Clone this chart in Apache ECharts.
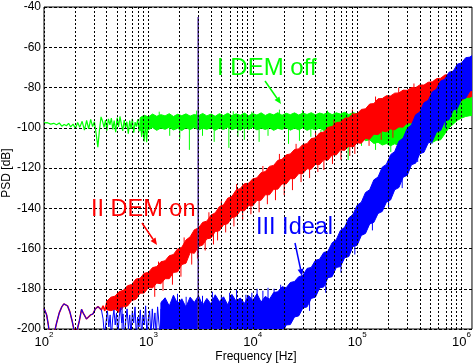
<!DOCTYPE html>
<html><head><meta charset="utf-8">
<script src="https://cdn.jsdelivr.net/npm/echarts@6/dist/echarts.min.js"></script>
<style>html,body{margin:0;padding:0;background:#fff}#c{width:474px;height:363px}</style>
</head><body><div id="c"></div>
<script>
// ---------- DATA (frequency in Hz, PSD in dB) ----------
const xTickFreqs = [100, 1000, 10000, 100000, 1000000];
const yTicks = [-200, -180, -160, -140, -120, -100, -80, -60, -40];
const gridFreqs = [100,200,300,400,500,600,700,800,900,1000,2000,3000,4000,5000,6000,7000,8000,9000,
  10000,20000,30000,40000,50000,60000,70000,80000,90000,100000,200000,300000,400000,500000,600000,700000,800000,900000,1000000];

// low-frequency part shared by "DEM on" and "Ideal"
const lowShared = [[100,-189.7],[106,-193],[110,-198],[114,-204],[123,-204],[132,-197],[140,-192],[148,-189],[155,-187.5],[161,-186.7],[168,-188.5],[177,-191.5],[186,-196],[193,-200],[200,-204],[208,-204],[218,-196],[229,-190.2],[237,-192],[246,-193.5],[255,-195],[264,-194.7],[280,-193],[295,-192.5],[310,-190],[329,-188.9],[342,-189.5],[355,-190.5]];
const redLowTail = [[368,-188.5],[382,-191],[398,-187]];
const blueLowTail = [[368,-195],[380,-204],[392,-197],[405,-191],[418,-199],[430,-193],[442,-204],[455,-195],[468,-190.5],[481,-198],[495,-192],[510,-204],[525,-194],[540,-189.5],[556,-197],[572,-192.5],[590,-204],[607,-196],[625,-190],[644,-200],[663,-193],[682,-204],[702,-191],[723,-197],[745,-189],[767,-204],[790,-194],[813,-199],[837,-190.5],[862,-204],[887,-193],[914,-198],[941,-188.5],[969,-204],[998,-195],[1028,-191],[1058,-204],[1090,-190],[1122,-200],[1155,-192],[1190,-204],[1225,-189],[1262,-197],[1300,-204],[1318,-190]];
const greenLow = [[100,-97.6],[108,-97.5],[116,-98.2],[124,-97.8],[132,-98.5],[140,-97.6],[148,-99.2],[156,-98.4],[164,-99.0],[172,-97.8],[180,-99.6],[190,-98.2],[200,-100.4],[210,-97.4],[220,-99.8],[232,-96.8],[244,-101.2],[256,-96.4],[268,-100.6],[280,-95.8],[292,-99.4],[304,-97.0],[316,-103.0],[328,-109.6],[340,-101.0],[352,-94.6],[364,-96.8],[376,-99.8],[388,-96.2],[400,-101.4],[414,-95.6],[428,-98.6],[442,-95.2],[456,-100.8],[470,-96.4],[486,-102.2],[502,-95.0],[518,-99.6],[534,-94.4],[550,-98.0],[568,-101.6],[586,-96.2],[604,-100.2],[622,-97.0],[642,-103.0],[662,-96.4],[682,-100.6],[702,-95.6],[724,-102.4],[746,-97.2],[768,-99.4],[790,-95.8],[814,-101.8],[838,-97.0],[862,-104.6],[886,-98.2],[910,-106.8],[936,-97.4],[962,-107.2],[990,-96.6]];

// dense noisy bands: [frequency, upper edge, lower edge]
const greenBand = [[832,-95.0,-101.4],[912,-93.8,-100.2],[1000,-94.6,-101.0],[1096,-93.2,-99.9],[1202,-94.3,-101.3],[1318,-93.5,-100.1],[1445,-94.1,-100.8],[1585,-93.0,-99.7],[1738,-94.4,-101.1],[1905,-93.3,-100.3],[2089,-94.0,-101.4],[2291,-93.1,-100.0],[2512,-94.2,-100.9],[2754,-93.4,-99.8],[3020,-94.0,-101.2],[3311,-92.9,-100.2],[3631,-94.1,-100.8],[3981,-93.2,-99.9],[4365,-94.3,-101.3],[4786,-93.0,-100.1],[5248,-93.9,-100.9],[5754,-92.8,-99.7],[6310,-94.0,-101.0],[6918,-93.1,-100.2],[7586,-93.8,-101.2],[8318,-92.7,-100.0],[9120,-94.0,-100.8],[10000,-93.0,-99.8],[10965,-93.7,-101.1],[12023,-92.6,-100.1],[13183,-93.9,-100.9],[14454,-92.9,-99.9],[15849,-93.6,-101.3],[17378,-92.5,-100.3],[19055,-93.8,-100.8],[20893,-92.8,-99.9],[22909,-93.5,-101.2],[25119,-92.6,-100.2],[27542,-93.7,-101.0],[30200,-92.7,-100.0],[33113,-93.4,-101.3],[36308,-92.5,-100.3],[39811,-93.6,-101.1],[43652,-92.7,-100.1],[47863,-93.3,-101.4],[52481,-92.4,-100.5],[57544,-93.5,-101.6],[63096,-92.6,-100.6],[69183,-93.2,-101.8],[75858,-92.3,-100.9],[83176,-93.4,-102.2],[91201,-92.5,-101.3],[100000,-93.1,-103.2],[109648,-92.2,-104.6],[120226,-93.0,-106.4],[131826,-92.4,-106.0],[144544,-92.9,-107.8],[158489,-92.0,-107.2],[173780,-92.8,-108.6],[190546,-92.2,-107.9],[208930,-92.7,-108.9],[229087,-91.9,-108.0],[251189,-92.6,-108.7],[275423,-92.0,-107.8],[301995,-92.4,-108.5],[331131,-91.7,-107.6],[363078,-91.8,-108.2],[398107,-90.9,-107.2],[436516,-90.6,-107.8],[478630,-89.8,-106.8],[524807,-89.5,-107.3],[575440,-88.6,-106.2],[630957,-88.2,-106.0],[691831,-87.4,-103.0],[758578,-87.0,-100.0],[831764,-86.2,-98.2],[912011,-85.8,-96.3],[1000000,-84.9,-95.2],[1096478,-84.5,-94.4],[1202264,-83.8,-94.0],[1318257,-83.5,-93.8]];

const redBand = [[398,-186.3,-190.4],[437,-184.2,-190.9],[479,-183.7,-190.2],[525,-181.4,-191.8],[575,-180.8,-189.0],[631,-178.5,-188.6],[692,-177.9,-185.8],[759,-175.2,-185.3],[832,-174.8,-182.2],[912,-172.3,-182.1],[1000,-171.9,-179.4],[1096,-169.5,-179.6],[1202,-169.0,-177.2],[1318,-166.6,-177.5],[1445,-166.1,-175.0],[1585,-163.6,-175.0],[1738,-163.0,-171.9],[1905,-160.2,-171.6],[2089,-159.4,-168.0],[2291,-155.8,-167.3],[2512,-154.2,-162.0],[2754,-150.7,-162.4],[3020,-149.8,-159.0],[3311,-147.0,-158.3],[3631,-146.4,-155.2],[3981,-143.4,-154.8],[4365,-142.3,-151.6],[4786,-139.2,-151.2],[5248,-138.3,-148.2],[5754,-135.0,-147.7],[6310,-134.1,-144.6],[6918,-131.0,-144.1],[7586,-130.2,-141.2],[8318,-127.8,-141.3],[9120,-127.6,-138.7],[10000,-125.4,-138.8],[10965,-124.9,-136.1],[12023,-122.3,-136.0],[13183,-121.8,-133.3],[14454,-119.2,-133.3],[15849,-118.7,-130.6],[17378,-116.2,-130.5],[19055,-115.7,-127.9],[20893,-113.5,-127.9],[22909,-113.0,-125.3],[25119,-110.8,-125.3],[27542,-110.5,-122.8],[30200,-108.3,-122.8],[33113,-107.9,-120.4],[36308,-105.4,-120.6],[39811,-105.0,-118.1],[43652,-102.6,-118.3],[47863,-102.1,-115.9],[52481,-99.8,-116.1],[57544,-99.4,-113.5],[63096,-97.4,-113.5],[69183,-97.2,-110.9],[75858,-95.3,-111.3],[83176,-95.0,-109.2],[91201,-93.2,-109.6],[100000,-93.0,-107.5],[109648,-90.9,-107.7],[120226,-90.6,-105.3],[131826,-88.2,-105.6],[144544,-88.0,-103.2],[158489,-85.6,-103.4],[173780,-85.5,-101.6],[190546,-84.1,-102.0],[208930,-84.2,-100.6],[229087,-82.8,-101.0],[251189,-82.7,-99.6],[275423,-81.3,-99.7],[301995,-81.4,-97.6],[331131,-80.0,-97.6],[363078,-80.1,-95.6],[398107,-78.7,-95.6],[436516,-78.8,-93.6],[478630,-77.4,-93.6],[524807,-77.2,-91.7],[575440,-75.6,-91.8],[630957,-75.4,-89.9],[691831,-73.8,-90.0],[758578,-73.6,-88.2],[831764,-72.1,-88.3],[912011,-72.0,-86.5],[1000000,-70.6,-86.6],[1096478,-70.0,-84.8],[1202264,-68.2,-84.9],[1318257,-68.0,-83.8]];

const blueBand = [[1318,-187.0,-205],[1445,-184.5,-205],[1585,-188.6,-205],[1738,-183.2,-205],[1905,-187.4,-205],[2089,-185.0,-205],[2291,-189.1,-205],[2512,-184.2,-205],[2754,-186.8,-205],[3020,-183.5,-205],[3311,-188.2,-205],[3631,-184.8,-205],[3981,-187.6,-205],[4365,-183.0,-205],[4786,-186.4,-205],[5248,-184.0,-205],[5754,-188.0,-205],[6310,-182.8,-205],[6918,-186.1,-205],[7586,-184.6,-205],[8318,-187.3,-205],[9120,-183.4,-205],[10000,-185.8,-205],[10965,-182.5,-205],[12023,-186.6,-205],[13183,-183.8,-205],[14454,-185.2,-205],[15849,-181.9,-205],[17378,-181.5,-205],[19055,-179.0,-202.5],[20893,-179.5,-198.0],[22909,-176.9,-197.8],[25119,-176.4,-194.0],[27542,-174.0,-193.5],[30200,-173.4,-189.6],[33113,-169.9,-189.0],[36308,-169.4,-184.8],[39811,-165.9,-184.2],[43652,-165.3,-179.6],[47863,-162.0,-179.1],[52481,-161.4,-174.5],[57544,-157.2,-174.0],[63096,-155.6,-169.4],[69183,-151.0,-169.0],[75858,-149.5,-164.6],[83176,-144.8,-164.0],[91201,-143.1,-159.0],[100000,-138.5,-158.4],[109648,-137.0,-153.5],[120226,-132.2,-152.5],[131826,-130.8,-147.8],[144544,-125.9,-147.0],[158489,-124.5,-142.6],[173780,-119.6,-141.6],[190546,-118.2,-137.0],[208930,-113.4,-135.9],[229087,-111.8,-130.8],[251189,-106.7,-129.7],[275423,-105.2,-124.6],[301995,-100.3,-123.6],[331131,-98.6,-118.4],[363078,-93.6,-117.6],[398107,-92.2,-112.9],[436516,-87.6,-112.2],[478630,-86.4,-107.6],[524807,-82.1,-106.8],[575440,-80.9,-102.1],[630957,-76.8,-101.4],[691831,-75.9,-96.6],[758578,-72.4,-96.0],[831764,-71.9,-91.2],[912011,-68.4,-90.4],[1000000,-67.8,-85.8],[1096478,-65.2,-85.3],[1202264,-64.9,-81.7],[1318257,-63.4,-81.2]];

// isolated noise spikes: [frequency, from, to]
const greenSpikes = [[1270,-94,-92],[1600,-100,-104],[2000,-100,-105.5],[2470,-100,-111],[2900,-94,-91.5],[3300,-100,-104],[4270,-100,-107],[5900,-100,-110],[6500,-94,-91.8],[7200,-100,-104.5],[8300,-100,-106],[9800,-94,-92],[11500,-100,-107],[14000,-100,-104],[18000,-94,-91],[22000,-100,-108],[28000,-101,-106.5],[30000,-93.5,-91.3],[36000,-100,-104.5],[45000,-101,-107],[52000,-93.5,-91.5],[60000,-101,-105],[82000,-102,-116],[110000,-104,-109],[150000,-105,-111],[210000,-106,-112],[330000,-106,-110]];
const redSpikes = [[1150,-178,-184],[1380,-175,-181],[1700,-172,-178],[2050,-168,-174],[2600,-161,-168],[2950,-159,-165],[3500,-156,-161],[4200,-152,-158],[4600,-150,-156],[5500,-147,-152],[6600,-143,-149],[8000,-140,-146],[9600,-138,-143],[11500,-135,-142],[13800,-133,-138],[16500,-130,-136],[20000,-127,-133.5],[24000,-125,-131],[29000,-122,-127],[35000,-119,-125],[42000,-117,-122],[48000,-115,-121],[58000,-113,-118],[70000,-110,-116],[85000,-109,-114],[95000,-108,-113],[130000,-104,-109],[170000,-102,-106],[220000,-100,-105],
  [1250,-169,-166.5],[2200,-158,-154.5],[3800,-145,-142],[5000,-139,-136.5],[7000,-131,-128],[12500,-122,-119],[18000,-116,-113],[26000,-111,-108],[40000,-105,-102],[60000,-99,-96],[90000,-94,-91],[150000,-87,-84.5],[250000,-83,-80],[350000,-80.5,-78]];
const blueSpikes = [[560,-200,-189],[1350,-200,-186],[1900,-200,-182.5],[2300,-200,-184],[3300,-200,-183.5],[4100,-200,-181.5],[5000,-200,-183],[6000,-200,-182],[7000,-200,-180.5],[8600,-200,-183],[9800,-200,-182],[11000,-200,-180],[12500,-200,-181],[14000,-200,-179.5],[16000,-200,-180],[18500,-200,-178],
  [35000,-186,-191],[50000,-176,-182],[70000,-167,-172],[95000,-157,-163],[140000,-146,-151],[200000,-135,-140],[270000,-124,-130],[380000,-111,-117],[520000,-104,-108],[700000,-95,-100],[900000,-89,-93]];
// tone at ~3 kHz
const toneLine = [[3000,-200],[3000,-45]];

// ---------- CHART ----------
const FONT = "'Liberation Sans', Arial, sans-serif";
const lg = f => Math.log10(f);
const chart = echarts.init(document.getElementById('c'), null, {renderer: 'canvas'});

function band(rows, color) {
  return {
    type: 'custom', clip: true, silent: true,
    data: rows.map(r => [lg(r[0]), r[1], r[2]]),
    encode: {x: 0, y: [1, 2]},
    renderItem: function (params, api) {
      if (params.dataIndex !== 0) return null;
      const pts = [];
      rows.forEach(r => pts.push(api.coord([lg(r[0]), r[1]])));
      for (let i = rows.length - 1; i >= 0; i--) pts.push(api.coord([lg(rows[i][0]), rows[i][2]]));
      return {type: 'polygon', shape: {points: pts}, style: {fill: color, stroke: color, lineWidth: 1}};
    }
  };
}
function spikes(rows, color) {
  return {
    type: 'custom', clip: true, silent: true,
    data: rows.map(r => [lg(r[0]), r[1], r[2]]),
    encode: {x: 0, y: [1, 2]},
    renderItem: function (params, api) {
      const a = api.coord([api.value(0), api.value(1)]);
      const b = api.coord([api.value(0), api.value(2)]);
      return {type: 'line', shape: {x1: a[0], y1: a[1], x2: b[0], y2: b[1]}, style: {stroke: color, lineWidth: 1}};
    }
  };
}
function line(rows, color, w) {
  return {
    type: 'line', clip: true, silent: true, showSymbol: false, symbol: 'none',
    data: rows.map(r => [lg(r[0]), r[1]]),
    lineStyle: {color: color, width: w}
  };
}
function arrow(x1, y1, x2, y2, color) {
  const ang = Math.atan2(y2 - y1, x2 - x1), L = 7, W = 3;
  const bx = x2 - L * Math.cos(ang), by = y2 - L * Math.sin(ang);
  const px = -Math.sin(ang) * W, py = Math.cos(ang) * W;
  return [
    {type: 'line', shape: {x1: x1, y1: y1, x2: bx, y2: by}, style: {stroke: color, lineWidth: 1.5}, z: 100},
    {type: 'polygon', shape: {points: [[x2, y2], [bx + px, by + py], [bx - px, by - py]]}, style: {fill: color}, z: 100}
  ];
}

const option = {
  animation: false,
  backgroundColor: '#fff',
  grid: {left: 44, right: 0, top: 7, bottom: 34, show: true, borderColor: '#000', borderWidth: 1, backgroundColor: '#fff'},
  xAxis: {
    type: 'value', min: 2, max: 6.1, interval: 1,
    axisLine: {show: false}, axisTick: {show: false}, splitLine: {show: false},
    axisLabel: {
      showMaxLabel: false, margin: 2, color: '#000',
      formatter: function (v) {
        const n = Math.round(v);
        if (Math.abs(v - n) > 1e-6 || xTickFreqs.indexOf(Math.pow(10, n)) < 0) return '';
        return '{b|10}{s|' + n + '}';
      },
      rich: {
        b: {fontSize: 13, fontFamily: FONT, color: '#000', lineHeight: 18, verticalAlign: 'bottom'},
        s: {fontSize: 8, fontFamily: FONT, color: '#000', lineHeight: 10, verticalAlign: 'top'}
      }
    }
  },
  yAxis: {
    type: 'value', min: yTicks[0], max: yTicks[yTicks.length - 1], interval: 20,
    axisLine: {show: false}, axisTick: {show: false},
    splitLine: {show: true, lineStyle: {color: '#000', width: 1, type: [3, 2]}},
    axisLabel: {color: '#000', fontSize: 12, fontFamily: FONT, margin: 3}
  },
  graphic: [
    {type: 'text', x: 7, y: 173, rotation: Math.PI / 2, style: {text: 'PSD [dB]', fill: '#000', font: '12px ' + FONT, align: 'center', verticalAlign: 'middle'}},
    {type: 'text', x: 256, y: 357, style: {text: 'Frequency [Hz]', fill: '#000', font: '12px ' + FONT, align: 'center', verticalAlign: 'middle'}},
    {type: 'text', x: 217, y: 68.5, z: 100, style: {text: 'I DEM off', fill: '#00ff00', font: '24px ' + FONT, align: 'left', verticalAlign: 'middle'}},
    {type: 'text', x: 91, y: 209.5, z: 100, style: {text: 'II DEM on', fill: '#ff0000', font: '23.5px ' + FONT, align: 'left', verticalAlign: 'middle'}},
    {type: 'text', x: 256, y: 228, z: 100, style: {text: 'III Ideal', fill: '#0000ff', font: '23.5px ' + FONT, align: 'left', verticalAlign: 'middle'}}
  ].concat(arrow(265, 81, 281, 104, '#00ff00'))
   .concat(arrow(142, 223, 157, 245, '#ff0000'))
   .concat(arrow(295, 243, 302, 276, '#0000ff')),
  series: [
    {
      type: 'line', data: [], silent: true,
      markLine: {
        silent: true, symbol: ['none', 'none'], label: {show: false}, animation: false,
        lineStyle: {color: '#000', width: 1, type: [2, 2]},
        data: gridFreqs.map(f => ({xAxis: lg(f)}))
      }
    },
    line(greenLow, '#00ff00', 1.2),
    band(greenBand, '#00ff00'),
    spikes(greenSpikes, '#00ff00'),
    line(lowShared.concat(redLowTail), '#ff0000', 1.5),
    band(redBand, '#ff0000'),
    spikes(redSpikes, '#ff0000'),
    line(lowShared.concat(blueLowTail), '#0000ff', 1),
    band(blueBand, '#0000ff'),
    spikes(blueSpikes, '#0000ff'),
    line(toneLine, '#4a2a9a', 1.5)
  ]
};
chart.setOption(option);
</script></body></html>
